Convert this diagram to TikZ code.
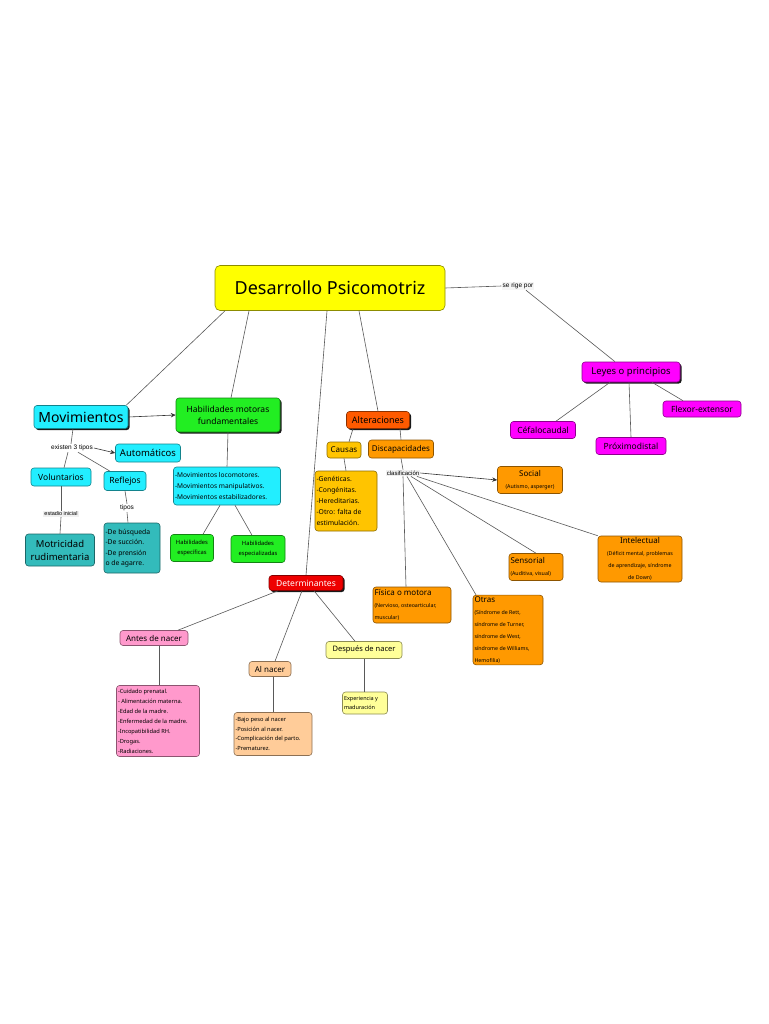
\documentclass[tikz,border=0pt]{standalone}
\usepackage{fontspec}
\setmainfont{Noto Sans}
\newfontfamily\labf{Liberation Sans}
\usetikzlibrary{shadows,arrows.meta}
\newcommand\fsz[2]{\fontsize{#1}{#2}\selectfont}
\definecolor{cYel}{HTML}{FFFF00}
\definecolor{cCya}{HTML}{22EEFF}
\definecolor{cGrn}{HTML}{22EE22}
\definecolor{cTeal}{HTML}{33BBBB}
\definecolor{cAlt}{HTML}{FF5A00}
\definecolor{cGold}{HTML}{FFC400}
\definecolor{cOr}{HTML}{FF9900}
\definecolor{cMag}{HTML}{FF00FF}
\definecolor{cRed}{HTML}{EE0000}
\definecolor{cPink}{HTML}{FF99CC}
\definecolor{cPeach}{HTML}{FFCC99}
\definecolor{cLY}{HTML}{FFFF99}
\begin{document}
\begin{tikzpicture}[x=1pt,y=-1pt,
  cbox/.style={fill=#1, draw=#1!55!black, rounded corners=3pt, line width=0.6pt, inner sep=1.5pt, align=center, text=black},
  shd/.style={drop shadow={shadow xshift=1.6pt, shadow yshift=-1.6pt, opacity=0.9, fill=black}},
  con/.style={draw=black!65, line width=0.6pt},
  arr/.style={draw=black!80, line width=0.6pt, -{Stealth[length=5pt,width=4.5pt]}},
  lab/.style={font=\labf\fsz{6.5}{8}, fill=black!6, inner sep=1pt}]
\useasboundingbox (0,0) rectangle (768,1024);
\fill[white] (0,0) rectangle (768,1024);

% title
\node[cbox=cYel, rounded corners=5pt, minimum width=230pt, minimum height=45pt, font=\fsz{18}{20}] (des) at (330,288) {Desarrollo Psicomotriz};
\node[lab, fill=black!4] (rige) at (518,286) {se rige por};

% leyes
\node[cbox=cMag, shd, minimum width=98pt, minimum height=20pt, font=\fsz{9.5}{11}] (ley) at (631,372) {Leyes o principios};
\node[cbox=cMag, minimum width=65pt, minimum height=17pt, font=\fsz{8.5}{10}] (cef) at (543,430) {Céfalocaudal};
\node[cbox=cMag, minimum width=70pt, minimum height=17pt, font=\fsz{8.5}{10}] (prox) at (631,446) {Próximodistal};
\node[cbox=cMag, minimum width=78pt, minimum height=16pt, font=\fsz{8.5}{10}] (flex) at (702,409) {Flexor-extensor};

% movimientos
\node[cbox=cCya, shd, minimum width=94pt, minimum height=23pt, font=\fsz{14}{16}] (mov) at (81,417) {Movimientos};
\node[cbox=cGrn, shd, minimum width=104pt, minimum height=34pt, font=\fsz{8.5}{12}] (hab) at (228,415) {Habilidades motoras\\fundamentales};
\node[lab, fill=white] (ex) at (72,448) {existen 3 tipos};
\node[cbox=cCya, minimum width=65pt, minimum height=18pt, font=\fsz{9.5}{11}] (auto) at (148,453) {Automáticos};
\node[cbox=cCya, minimum width=60pt, minimum height=18pt, font=\fsz{8.5}{10}] (vol) at (61,477) {Voluntarios};
\node[cbox=cCya, minimum width=42pt, minimum height=19pt, font=\fsz{8.5}{10}] (ref) at (125,481) {Reflejos};
\node[lab, font=\labf\fsz{5.5}{7}] (est) at (61,514) {estadio inicial};
\node[cbox=cTeal, minimum width=69pt, minimum height=32pt, font=\fsz{9.5}{13}] (mot) at (60,550) {Motricidad\\rudimentaria};
\node[lab, fill=white] (tip) at (127,508) {tipos};
\node[cbox=cTeal, text width=53pt, minimum height=50pt, align=flush left, font=\fsz{6.8}{10.5}] (reflist) at (132,548) {-De búsqueda\\-De succión.\\-De prensión\\o de agarre.};
\node[cbox=cCya, text width=104pt, minimum height=38pt, align=flush left, font=\fsz{6.6}{11}] (movlist) at (227,486) {-Movimientos locomotores.\\-Movimientos manipulativos.\\-Movimientos estabilizadores.};
\node[cbox=cGrn, minimum width=43pt, minimum height=27pt, font=\fsz{5.8}{10}] (hesp) at (192,548) {Habilidades\\específicas};
\node[cbox=cGrn, minimum width=54pt, minimum height=27pt, font=\fsz{5.8}{10}] (hespz) at (258,549) {Habilidades\\especializadas};

% alteraciones
\node[cbox=cAlt, shd, minimum width=63pt, minimum height=17pt, font=\fsz{9}{10}] (alt) at (378,420) {Alteraciones};
\node[cbox=cGold, minimum width=34pt, minimum height=16pt, font=\fsz{8}{9}] (cau) at (344,450) {Causas};
\node[cbox=cOr, minimum width=65pt, minimum height=18pt, font=\fsz{8}{9}] (disc) at (401,449) {Discapacidades};
\node[cbox=cGold, text width=59pt, minimum height=60pt, align=flush left, font=\fsz{6.8}{11}] (clist) at (346,501) {-Genéticas.\\-Congénitas.\\-Hereditarias.\\-Otro: falta de\\estimulación.};
\node[lab, font=\labf\fsz{6}{7}] (clas) at (403,473) {clasificación};
\node[cbox=cOr, minimum width=65pt, minimum height=27pt] (soc) at (530,480) {{\fsz{8}{11}Social}\\{\fsz{5.3}{7}(Autismo, asperger)}};
\node[cbox=cOr, text width=51pt, minimum height=27pt, align=flush left] (sens) at (536,567) {{\fsz{8}{11}Sensorial}\\{\fsz{5.3}{7}(Auditiva, visual)}};
\node[cbox=cOr, minimum width=84pt, minimum height=46pt] (intel) at (640,559) {{\fsz{8}{10}Intelectual}\\{\fsz{5.3}{8.5}(Déficit mental, problemas}\\{\fsz{5.3}{8.5}de aprendizaje, síndrome}\\{\fsz{5.3}{8.5}de Down)}};
\node[cbox=cOr, text width=75pt, minimum height=36pt, align=flush left] (fis) at (412,605) {{\fsz{8}{11}Física o motora}\\{\fsz{5.3}{9}(Nervioso, osteoarticular,}\\{\fsz{5.3}{9}muscular)}};
\node[cbox=cOr, text width=67pt, minimum height=64pt, align=flush left] (otr) at (508,630) {{\fsz{8}{11}Otras}\\{\fsz{5.3}{9.5}(Síndrome de Rett,}\\{\fsz{5.3}{9.5}síndrome de Turner,}\\{\fsz{5.3}{9.5}síndrome de West,}\\{\fsz{5.3}{9.5}síndrome de Williams,}\\{\fsz{5.3}{9.5}Hemofilia)}};

% determinantes
\node[cbox=cRed, shd, text=white, minimum width=74pt, minimum height=15pt, font=\fsz{8.5}{9}] (det) at (306,583) {Determinantes};
\node[cbox=cPink, minimum width=68pt, minimum height=15pt, font=\fsz{8}{9}] (ant) at (154,638) {Antes de nacer};
\node[cbox=cPeach, minimum width=42pt, minimum height=15pt, font=\fsz{8}{9}] (aln) at (270,669) {Al nacer};
\node[cbox=cLY, minimum width=76pt, minimum height=17pt, font=\fsz{7.5}{9}] (desp) at (364,650) {Después de nacer};
\node[cbox=cPink, text width=80pt, minimum height=71pt, align=flush left, font=\fsz{5.7}{10}] (antl) at (158,721) {-Cuidado prenatal.\\- Alimentación materna.\\-Edad de la madre.\\-Enfermedad de la madre.\\-Incopatibilidad RH.\\-Drogas.\\-Radiaciones.};
\node[cbox=cPeach, text width=75pt, minimum height=43pt, align=flush left, font=\fsz{5.7}{9.5}] (alnl) at (273,734) {-Bajo peso al nacer\\-Posición al nacer.\\-Complicación del parto.\\-Prematurez.};
\node[cbox=cLY, text width=42pt, minimum height=22pt, align=flush left, font=\fsz{5.5}{8.5}] (exp) at (365,703) {Experiencia y\\maduración};

% connectors
\draw[con] ([xshift=-105pt]des.south) -- ([xshift=-2pt]mov.north east);
\draw[con] ([xshift=-81pt]des.south) -- ([xshift=3pt]hab.north);
\draw[con] ([xshift=-3pt]des.south) -- (det.north);
\draw[con] ([xshift=29pt]des.south) -- (alt.north);
\draw[con] (des.east) -- (rige.west);
\draw[con] ([xshift=8pt]rige.south) -- ([xshift=-16pt]ley.north);
\draw[con] ([xshift=-21pt]ley.south) -- ([xshift=13pt]cef.north);
\draw[con] ([xshift=-2pt]ley.south) -- (prox.north);
\draw[con] ([xshift=21pt]ley.south) -- ([xshift=-19pt]flex.north);

\draw[arr] (mov.east) -- (hab.west);
\draw[con] ([xshift=-8pt]mov.south) -- ([xshift=-1pt]ex.north);
\draw[arr] (ex.east) -- (auto.west);
\draw[con] ([xshift=-4pt]ex.south) -- ([xshift=3pt]vol.north);
\draw[con] ([xshift=6pt]ex.south) -- ([xshift=-15pt]ref.north);
\draw[con] (vol.south) -- (est.north);
\draw[con] (est.south) -- (mot.north);
\draw[con] (ref.south) -- (tip.north);
\draw[con] (tip.south) -- ([xshift=-4pt]reflist.north);
\draw[con] (hab.south) -- (movlist.north);
\draw[con] ([xshift=-7pt]movlist.south) -- ([xshift=11pt]hesp.north);
\draw[con] ([xshift=8pt]movlist.south) -- ([xshift=-6pt]hespz.north);

\draw[con] ([xshift=-25pt]alt.south) -- ([xshift=5pt]cau.north);
\draw[con] ([xshift=22pt]alt.south) -- (disc.north);
\draw[con] (cau.south) -- (clist.north);
\draw[con] (disc.south) -- (clas.north);
\draw[arr] (clas.east) -- (soc.west);
\draw[con] ([xshift=0pt]clas.south) -- ([xshift=-6pt]fis.north);
\draw[con] ([xshift=4pt]clas.south) -- ([xshift=-32pt]otr.north);
\draw[con] ([xshift=8pt]clas.south) -- (sens.north);
\draw[con] ([xshift=14pt]clas.south) -- (intel.north west);

\draw[con] ([xshift=-28pt]det.south) -- ([xshift=24pt]ant.north);
\draw[con] ([xshift=-4pt]det.south) -- ([xshift=5pt]aln.north);
\draw[con] ([xshift=8pt]det.south) -- ([xshift=-9pt]desp.north);
\draw[con] ([xshift=5pt]ant.south) -- ([xshift=5pt]ant.south |- antl.north);
\draw[con] ([xshift=3pt]aln.south) -- ([xshift=3pt]aln.south |- alnl.north);
\draw[con] (desp.south) -- (desp.south |- exp.north);
\end{tikzpicture}
\end{document}
